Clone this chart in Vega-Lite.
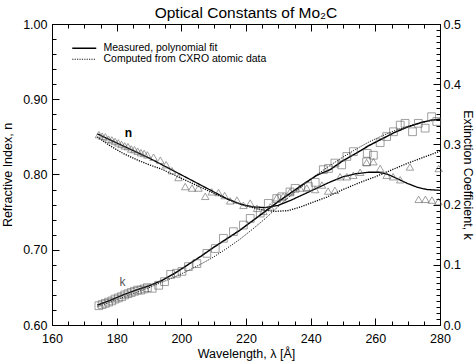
{
  "$schema": "https://vega.github.io/schema/vega-lite/v6.json",
  "width": 388,
  "height": 301,
  "autosize": "none",
  "padding": {"left": 52, "top": 24, "right": 34, "bottom": 38},
  "background": "white",
  "title": {"text": "Optical Constants of Mo₂C", "fontSize": 15.5, "fontWeight": "normal", "font": "Liberation Sans", "color": "black", "offset": -3, "anchor": "middle"},
  "config": {
    "font": "Liberation Sans",
    "view": {"stroke": "black", "strokeWidth": 1},
    "axis": {"grid": false, "domainColor": "black", "tickColor": "black", "labelColor": "black", "titleColor": "black", "labelFontSize": 12.5, "titleFontSize": 12.5, "titleFontWeight": "normal", "labelFont": "Liberation Sans", "titleFont": "Liberation Sans", "labelOverlap": false, "labelBound": false, "labelFlush": false}
  },
  "datasets": {
    "nline": [
      {"w": 174, "v": 0.854, "s": "Measured, polynomial fit"},
      {"w": 178, "v": 0.846, "s": "Measured, polynomial fit"},
      {"w": 182, "v": 0.838, "s": "Measured, polynomial fit"},
      {"w": 186, "v": 0.830, "s": "Measured, polynomial fit"},
      {"w": 190, "v": 0.822, "s": "Measured, polynomial fit"},
      {"w": 194, "v": 0.813, "s": "Measured, polynomial fit"},
      {"w": 198, "v": 0.804, "s": "Measured, polynomial fit"},
      {"w": 202, "v": 0.795, "s": "Measured, polynomial fit"},
      {"w": 206, "v": 0.786, "s": "Measured, polynomial fit"},
      {"w": 210, "v": 0.777, "s": "Measured, polynomial fit"},
      {"w": 214, "v": 0.768, "s": "Measured, polynomial fit"},
      {"w": 218, "v": 0.761, "s": "Measured, polynomial fit"},
      {"w": 222, "v": 0.757, "s": "Measured, polynomial fit"},
      {"w": 226, "v": 0.756, "s": "Measured, polynomial fit"},
      {"w": 230, "v": 0.759, "s": "Measured, polynomial fit"},
      {"w": 234, "v": 0.766, "s": "Measured, polynomial fit"},
      {"w": 238, "v": 0.774, "s": "Measured, polynomial fit"},
      {"w": 242, "v": 0.782, "s": "Measured, polynomial fit"},
      {"w": 246, "v": 0.790, "s": "Measured, polynomial fit"},
      {"w": 250, "v": 0.797, "s": "Measured, polynomial fit"},
      {"w": 254, "v": 0.801, "s": "Measured, polynomial fit"},
      {"w": 258, "v": 0.803, "s": "Measured, polynomial fit"},
      {"w": 261, "v": 0.803, "s": "Measured, polynomial fit"},
      {"w": 264, "v": 0.800, "s": "Measured, polynomial fit"},
      {"w": 267, "v": 0.794, "s": "Measured, polynomial fit"},
      {"w": 270, "v": 0.788, "s": "Measured, polynomial fit"},
      {"w": 273, "v": 0.783, "s": "Measured, polynomial fit"},
      {"w": 276, "v": 0.780, "s": "Measured, polynomial fit"},
      {"w": 280, "v": 0.779, "s": "Measured, polynomial fit"},
      {"w": 174, "v": 0.850, "s": "Computed from CXRO atomic data"},
      {"w": 178, "v": 0.838, "s": "Computed from CXRO atomic data"},
      {"w": 182, "v": 0.828, "s": "Computed from CXRO atomic data"},
      {"w": 186, "v": 0.820, "s": "Computed from CXRO atomic data"},
      {"w": 190, "v": 0.813, "s": "Computed from CXRO atomic data"},
      {"w": 194, "v": 0.807, "s": "Computed from CXRO atomic data"},
      {"w": 198, "v": 0.799, "s": "Computed from CXRO atomic data"},
      {"w": 202, "v": 0.791, "s": "Computed from CXRO atomic data"},
      {"w": 206, "v": 0.783, "s": "Computed from CXRO atomic data"},
      {"w": 210, "v": 0.775, "s": "Computed from CXRO atomic data"},
      {"w": 215, "v": 0.766, "s": "Computed from CXRO atomic data"},
      {"w": 220, "v": 0.758, "s": "Computed from CXRO atomic data"},
      {"w": 225, "v": 0.753, "s": "Computed from CXRO atomic data"},
      {"w": 229, "v": 0.751, "s": "Computed from CXRO atomic data"},
      {"w": 233, "v": 0.752, "s": "Computed from CXRO atomic data"},
      {"w": 237, "v": 0.757, "s": "Computed from CXRO atomic data"},
      {"w": 240, "v": 0.762, "s": "Computed from CXRO atomic data"},
      {"w": 245, "v": 0.770, "s": "Computed from CXRO atomic data"},
      {"w": 250, "v": 0.780, "s": "Computed from CXRO atomic data"},
      {"w": 255, "v": 0.789, "s": "Computed from CXRO atomic data"},
      {"w": 260, "v": 0.797, "s": "Computed from CXRO atomic data"},
      {"w": 265, "v": 0.806, "s": "Computed from CXRO atomic data"},
      {"w": 270, "v": 0.815, "s": "Computed from CXRO atomic data"},
      {"w": 275, "v": 0.823, "s": "Computed from CXRO atomic data"},
      {"w": 280, "v": 0.831, "s": "Computed from CXRO atomic data"}
    ],
    "npts": [
      {"w": 174.5, "v": 0.853}, {"w": 175.5, "v": 0.851}, {"w": 176.5, "v": 0.850}, {"w": 177.5, "v": 0.847},
      {"w": 178.5, "v": 0.846}, {"w": 179.5, "v": 0.844}, {"w": 180.5, "v": 0.842}, {"w": 181.5, "v": 0.840},
      {"w": 182.5, "v": 0.838}, {"w": 183.5, "v": 0.837}, {"w": 184.5, "v": 0.834}, {"w": 185.5, "v": 0.833},
      {"w": 186.5, "v": 0.831}, {"w": 187.5, "v": 0.829}, {"w": 188.5, "v": 0.828}, {"w": 189.5, "v": 0.826},
      {"w": 191.4, "v": 0.823}, {"w": 193.5, "v": 0.819}, {"w": 195.3, "v": 0.813}, {"w": 197.1, "v": 0.805},
      {"w": 199.1, "v": 0.796}, {"w": 201.2, "v": 0.784}, {"w": 203.3, "v": 0.782}, {"w": 205.3, "v": 0.782},
      {"w": 207.4, "v": 0.771}, {"w": 209.4, "v": 0.777}, {"w": 211.5, "v": 0.776}, {"w": 213.4, "v": 0.772},
      {"w": 215.1, "v": 0.765}, {"w": 217.2, "v": 0.766}, {"w": 219.2, "v": 0.759}, {"w": 221.3, "v": 0.762},
      {"w": 223.4, "v": 0.755}, {"w": 225.4, "v": 0.751}, {"w": 227.5, "v": 0.757}, {"w": 229.5, "v": 0.769},
      {"w": 231.5, "v": 0.771}, {"w": 233.6, "v": 0.777}, {"w": 236.7, "v": 0.782}, {"w": 238.8, "v": 0.782},
      {"w": 241.4, "v": 0.780}, {"w": 243.5, "v": 0.786}, {"w": 245.4, "v": 0.778}, {"w": 247.5, "v": 0.779},
      {"w": 249.1, "v": 0.797}, {"w": 251.2, "v": 0.797}, {"w": 253.2, "v": 0.799}, {"w": 255.3, "v": 0.803},
      {"w": 257.3, "v": 0.816}, {"w": 259.4, "v": 0.817}, {"w": 261.5, "v": 0.808}, {"w": 263.5, "v": 0.799},
      {"w": 265.5, "v": 0.797}, {"w": 267.7, "v": 0.793}, {"w": 270.7, "v": 0.810}, {"w": 273.4, "v": 0.767},
      {"w": 275.5, "v": 0.767}, {"w": 277.5, "v": 0.766}, {"w": 279.5, "v": 0.764}, {"w": 279.6, "v": 0.808}
    ],
    "kline": [
      {"w": 174, "v": 0.033, "s": "Measured, polynomial fit"},
      {"w": 178, "v": 0.041, "s": "Measured, polynomial fit"},
      {"w": 182, "v": 0.050, "s": "Measured, polynomial fit"},
      {"w": 186, "v": 0.058, "s": "Measured, polynomial fit"},
      {"w": 190, "v": 0.065, "s": "Measured, polynomial fit"},
      {"w": 194, "v": 0.074, "s": "Measured, polynomial fit"},
      {"w": 198, "v": 0.086, "s": "Measured, polynomial fit"},
      {"w": 202, "v": 0.100, "s": "Measured, polynomial fit"},
      {"w": 206, "v": 0.114, "s": "Measured, polynomial fit"},
      {"w": 210, "v": 0.129, "s": "Measured, polynomial fit"},
      {"w": 214, "v": 0.143, "s": "Measured, polynomial fit"},
      {"w": 218, "v": 0.157, "s": "Measured, polynomial fit"},
      {"w": 222, "v": 0.173, "s": "Measured, polynomial fit"},
      {"w": 226, "v": 0.189, "s": "Measured, polynomial fit"},
      {"w": 230, "v": 0.205, "s": "Measured, polynomial fit"},
      {"w": 234, "v": 0.220, "s": "Measured, polynomial fit"},
      {"w": 238, "v": 0.235, "s": "Measured, polynomial fit"},
      {"w": 242, "v": 0.249, "s": "Measured, polynomial fit"},
      {"w": 246, "v": 0.258, "s": "Measured, polynomial fit"},
      {"w": 250, "v": 0.273, "s": "Measured, polynomial fit"},
      {"w": 254, "v": 0.285, "s": "Measured, polynomial fit"},
      {"w": 258, "v": 0.298, "s": "Measured, polynomial fit"},
      {"w": 262, "v": 0.309, "s": "Measured, polynomial fit"},
      {"w": 266, "v": 0.320, "s": "Measured, polynomial fit"},
      {"w": 270, "v": 0.329, "s": "Measured, polynomial fit"},
      {"w": 274, "v": 0.336, "s": "Measured, polynomial fit"},
      {"w": 277, "v": 0.340, "s": "Measured, polynomial fit"},
      {"w": 280, "v": 0.342, "s": "Measured, polynomial fit"},
      {"w": 174, "v": 0.030, "s": "Computed from CXRO atomic data"},
      {"w": 178, "v": 0.038, "s": "Computed from CXRO atomic data"},
      {"w": 182, "v": 0.046, "s": "Computed from CXRO atomic data"},
      {"w": 186, "v": 0.054, "s": "Computed from CXRO atomic data"},
      {"w": 190, "v": 0.062, "s": "Computed from CXRO atomic data"},
      {"w": 194, "v": 0.071, "s": "Computed from CXRO atomic data"},
      {"w": 198, "v": 0.080, "s": "Computed from CXRO atomic data"},
      {"w": 202, "v": 0.090, "s": "Computed from CXRO atomic data"},
      {"w": 206, "v": 0.101, "s": "Computed from CXRO atomic data"},
      {"w": 210, "v": 0.113, "s": "Computed from CXRO atomic data"},
      {"w": 214, "v": 0.127, "s": "Computed from CXRO atomic data"},
      {"w": 218, "v": 0.142, "s": "Computed from CXRO atomic data"},
      {"w": 222, "v": 0.159, "s": "Computed from CXRO atomic data"},
      {"w": 226, "v": 0.177, "s": "Computed from CXRO atomic data"},
      {"w": 230, "v": 0.197, "s": "Computed from CXRO atomic data"},
      {"w": 234, "v": 0.216, "s": "Computed from CXRO atomic data"},
      {"w": 238, "v": 0.233, "s": "Computed from CXRO atomic data"},
      {"w": 242, "v": 0.250, "s": "Computed from CXRO atomic data"},
      {"w": 246, "v": 0.265, "s": "Computed from CXRO atomic data"},
      {"w": 250, "v": 0.279, "s": "Computed from CXRO atomic data"},
      {"w": 254, "v": 0.292, "s": "Computed from CXRO atomic data"},
      {"w": 258, "v": 0.304, "s": "Computed from CXRO atomic data"},
      {"w": 262, "v": 0.314, "s": "Computed from CXRO atomic data"},
      {"w": 266, "v": 0.323, "s": "Computed from CXRO atomic data"},
      {"w": 270, "v": 0.330, "s": "Computed from CXRO atomic data"},
      {"w": 274, "v": 0.336, "s": "Computed from CXRO atomic data"},
      {"w": 277, "v": 0.339, "s": "Computed from CXRO atomic data"},
      {"w": 280, "v": 0.341, "s": "Computed from CXRO atomic data"}
    ],
    "kpts": [
      {"w": 174.5, "v": 0.032}, {"w": 175.5, "v": 0.034}, {"w": 176.5, "v": 0.036}, {"w": 177.5, "v": 0.038},
      {"w": 178.5, "v": 0.040}, {"w": 179.5, "v": 0.043}, {"w": 180.5, "v": 0.045}, {"w": 181.5, "v": 0.047},
      {"w": 182.5, "v": 0.050}, {"w": 183.5, "v": 0.052}, {"w": 184.5, "v": 0.054}, {"w": 185.5, "v": 0.056},
      {"w": 186.5, "v": 0.058}, {"w": 187.5, "v": 0.058}, {"w": 188.5, "v": 0.060}, {"w": 189.5, "v": 0.062},
      {"w": 191.0, "v": 0.061}, {"w": 193.0, "v": 0.066}, {"w": 194.8, "v": 0.072}, {"w": 196.7, "v": 0.084},
      {"w": 198.5, "v": 0.086}, {"w": 200.2, "v": 0.089}, {"w": 202.2, "v": 0.097}, {"w": 204.8, "v": 0.102},
      {"w": 207.9, "v": 0.119}, {"w": 210.5, "v": 0.127}, {"w": 213.0, "v": 0.144}, {"w": 216.1, "v": 0.155},
      {"w": 219.2, "v": 0.166}, {"w": 221.3, "v": 0.177}, {"w": 224.4, "v": 0.186}, {"w": 226.9, "v": 0.202},
      {"w": 229.5, "v": 0.210}, {"w": 231.1, "v": 0.213}, {"w": 233.6, "v": 0.221}, {"w": 235.2, "v": 0.227},
      {"w": 239.3, "v": 0.230}, {"w": 241.4, "v": 0.237}, {"w": 243.9, "v": 0.258}, {"w": 245.5, "v": 0.260},
      {"w": 247.5, "v": 0.269}, {"w": 249.6, "v": 0.266}, {"w": 251.2, "v": 0.280}, {"w": 253.2, "v": 0.288},
      {"w": 257.3, "v": 0.271}, {"w": 257.5, "v": 0.285}, {"w": 259.4, "v": 0.282}, {"w": 261.5, "v": 0.303},
      {"w": 263.5, "v": 0.313}, {"w": 265.6, "v": 0.321}, {"w": 267.7, "v": 0.332}, {"w": 269.2, "v": 0.335},
      {"w": 271.5, "v": 0.321}, {"w": 273.3, "v": 0.335}, {"w": 275.4, "v": 0.327}, {"w": 277.4, "v": 0.346},
      {"w": 279.0, "v": 0.338}
    ],
    "nlab": [{"w": 183.6, "v": 0.855, "t": "n"}],
    "klab": [{"w": 181.8, "v": 0.072, "t": "k"}]
  },
  "layer": [
    {
      "encoding": {
        "x": {"field": "w", "type": "quantitative", "scale": {"domain": [160, 280], "nice": false, "zero": false},
          "axis": {"orient": "bottom", "title": "Wavelength, λ [Å]", "titlePadding": 0,
            "values": [160,165,170,175,180,185,190,195,200,205,210,215,220,225,230,235,240,245,250,255,260,265,270,275,280],
            "labelExpr": "datum.value % 20 === 0 ? datum.label : ''",
            "tickSize": {"condition": {"test": "datum.value % 20 === 0", "value": -7}, "value": -4},
            "labelPadding": 14}},
        "y": {"field": "v", "type": "quantitative", "scale": {"domain": [0.6, 1.0], "nice": false, "zero": false},
          "axis": {"orient": "left", "title": "Refractive Index, n", "format": ".2f", "titlePadding": 8,
            "values": [0.6,0.62,0.64,0.66,0.68,0.7,0.72,0.74,0.76,0.78,0.8,0.82,0.84,0.86,0.88,0.9,0.92,0.94,0.96,0.98,1.0],
            "labelExpr": "abs(datum.value*10 - round(datum.value*10)) < 0.001 ? datum.label : ''",
            "tickSize": {"condition": {"test": "abs(datum.value*10 - round(datum.value*10)) < 0.001", "value": -7}, "value": -4},
            "labelPadding": 12}}
      },
      "layer": [
        {"data": {"name": "nline"}, "mark": {"type": "line", "color": "black", "strokeWidth": 1.3},
          "encoding": {"detail": {"field": "s"},
            "strokeDash": {"field": "s", "type": "nominal",
              "scale": {"domain": ["Measured, polynomial fit", "Computed from CXRO atomic data"], "range": [[1, 0], [1.2, 1.2]]},
              "legend": {"orient": "none", "legendX": 27, "legendY": 19, "title": null, "symbolType": "M-3,0L3,0", "symbolSize": 64, "symbolStrokeWidth": 1.3, "symbolStrokeColor": "black", "labelFontSize": 10.5, "labelFont": "Liberation Sans", "labelColor": "black", "rowPadding": -2, "labelOffset": 14, "labelLimit": 0}},
            "strokeWidth": {"field": "s", "type": "nominal", "scale": {"domain": ["Measured, polynomial fit", "Computed from CXRO atomic data"], "range": [1.5, 0.9]}, "legend": null}}},
        {"data": {"name": "npts"}, "mark": {"type": "point", "shape": "triangle-up", "filled": false, "size": 55, "stroke": "#555", "strokeWidth": 0.8}},
        {"data": {"name": "nlab"}, "mark": {"type": "text", "fontSize": 12, "fontWeight": "bold", "color": "black"}, "encoding": {"text": {"field": "t"}}}
      ]
    },
    {
      "encoding": {
        "x": {"field": "w", "type": "quantitative", "scale": {"domain": [160, 280], "nice": false, "zero": false},
          "axis": {"orient": "top", "title": null, "labels": false,
            "values": [160,165,170,175,180,185,190,195,200,205,210,215,220,225,230,235,240,245,250,255,260,265,270,275,280],
            "tickSize": {"condition": {"test": "datum.value % 20 === 0", "value": -7}, "value": -4}}},
        "y": {"field": "v", "type": "quantitative", "scale": {"domain": [0, 0.5], "nice": false, "zero": false},
          "axis": {"orient": "right", "title": "Extinction Coefficient, k", "format": ".1f", "titlePadding": 0,
            "values": [0,0.01,0.02,0.03,0.04,0.05,0.06,0.07,0.08,0.09,0.1,0.11,0.12,0.13,0.14,0.15,0.16,0.17,0.18,0.19,0.2,0.21,0.22,0.23,0.24,0.25,0.26,0.27,0.28,0.29,0.3,0.31,0.32,0.33,0.34,0.35,0.36,0.37,0.38,0.39,0.4,0.41,0.42,0.43,0.44,0.45,0.46,0.47,0.48,0.49,0.5],
            "labelExpr": "abs(datum.value*10 - round(datum.value*10)) < 0.001 ? datum.label : ''",
            "tickSize": {"condition": {"test": "abs(datum.value*10 - round(datum.value*10)) < 0.001", "value": -7}, "value": -4},
            "labelPadding": 10}}
      },
      "layer": [
        {"data": {"name": "kline"}, "mark": {"type": "line", "color": "black"},
          "encoding": {"detail": {"field": "s"},
            "strokeDash": {"field": "s", "type": "nominal",
              "scale": {"domain": ["Measured, polynomial fit", "Computed from CXRO atomic data"], "range": [[1, 0], [1.2, 1.2]]}, "legend": null},
            "strokeWidth": {"field": "s", "type": "nominal", "scale": {"domain": ["Measured, polynomial fit", "Computed from CXRO atomic data"], "range": [1.5, 0.9]}, "legend": null}}},
        {"data": {"name": "kpts"}, "mark": {"type": "point", "shape": "square", "filled": false, "size": 60, "stroke": "#555", "strokeWidth": 0.8}},
        {"data": {"name": "klab"}, "mark": {"type": "text", "fontSize": 12, "color": "#555"}, "encoding": {"text": {"field": "t"}}}
      ]
    }
  ],
  "resolve": {"scale": {"x": "independent", "y": "independent", "strokeDash": "shared", "strokeWidth": "shared"}}
}
